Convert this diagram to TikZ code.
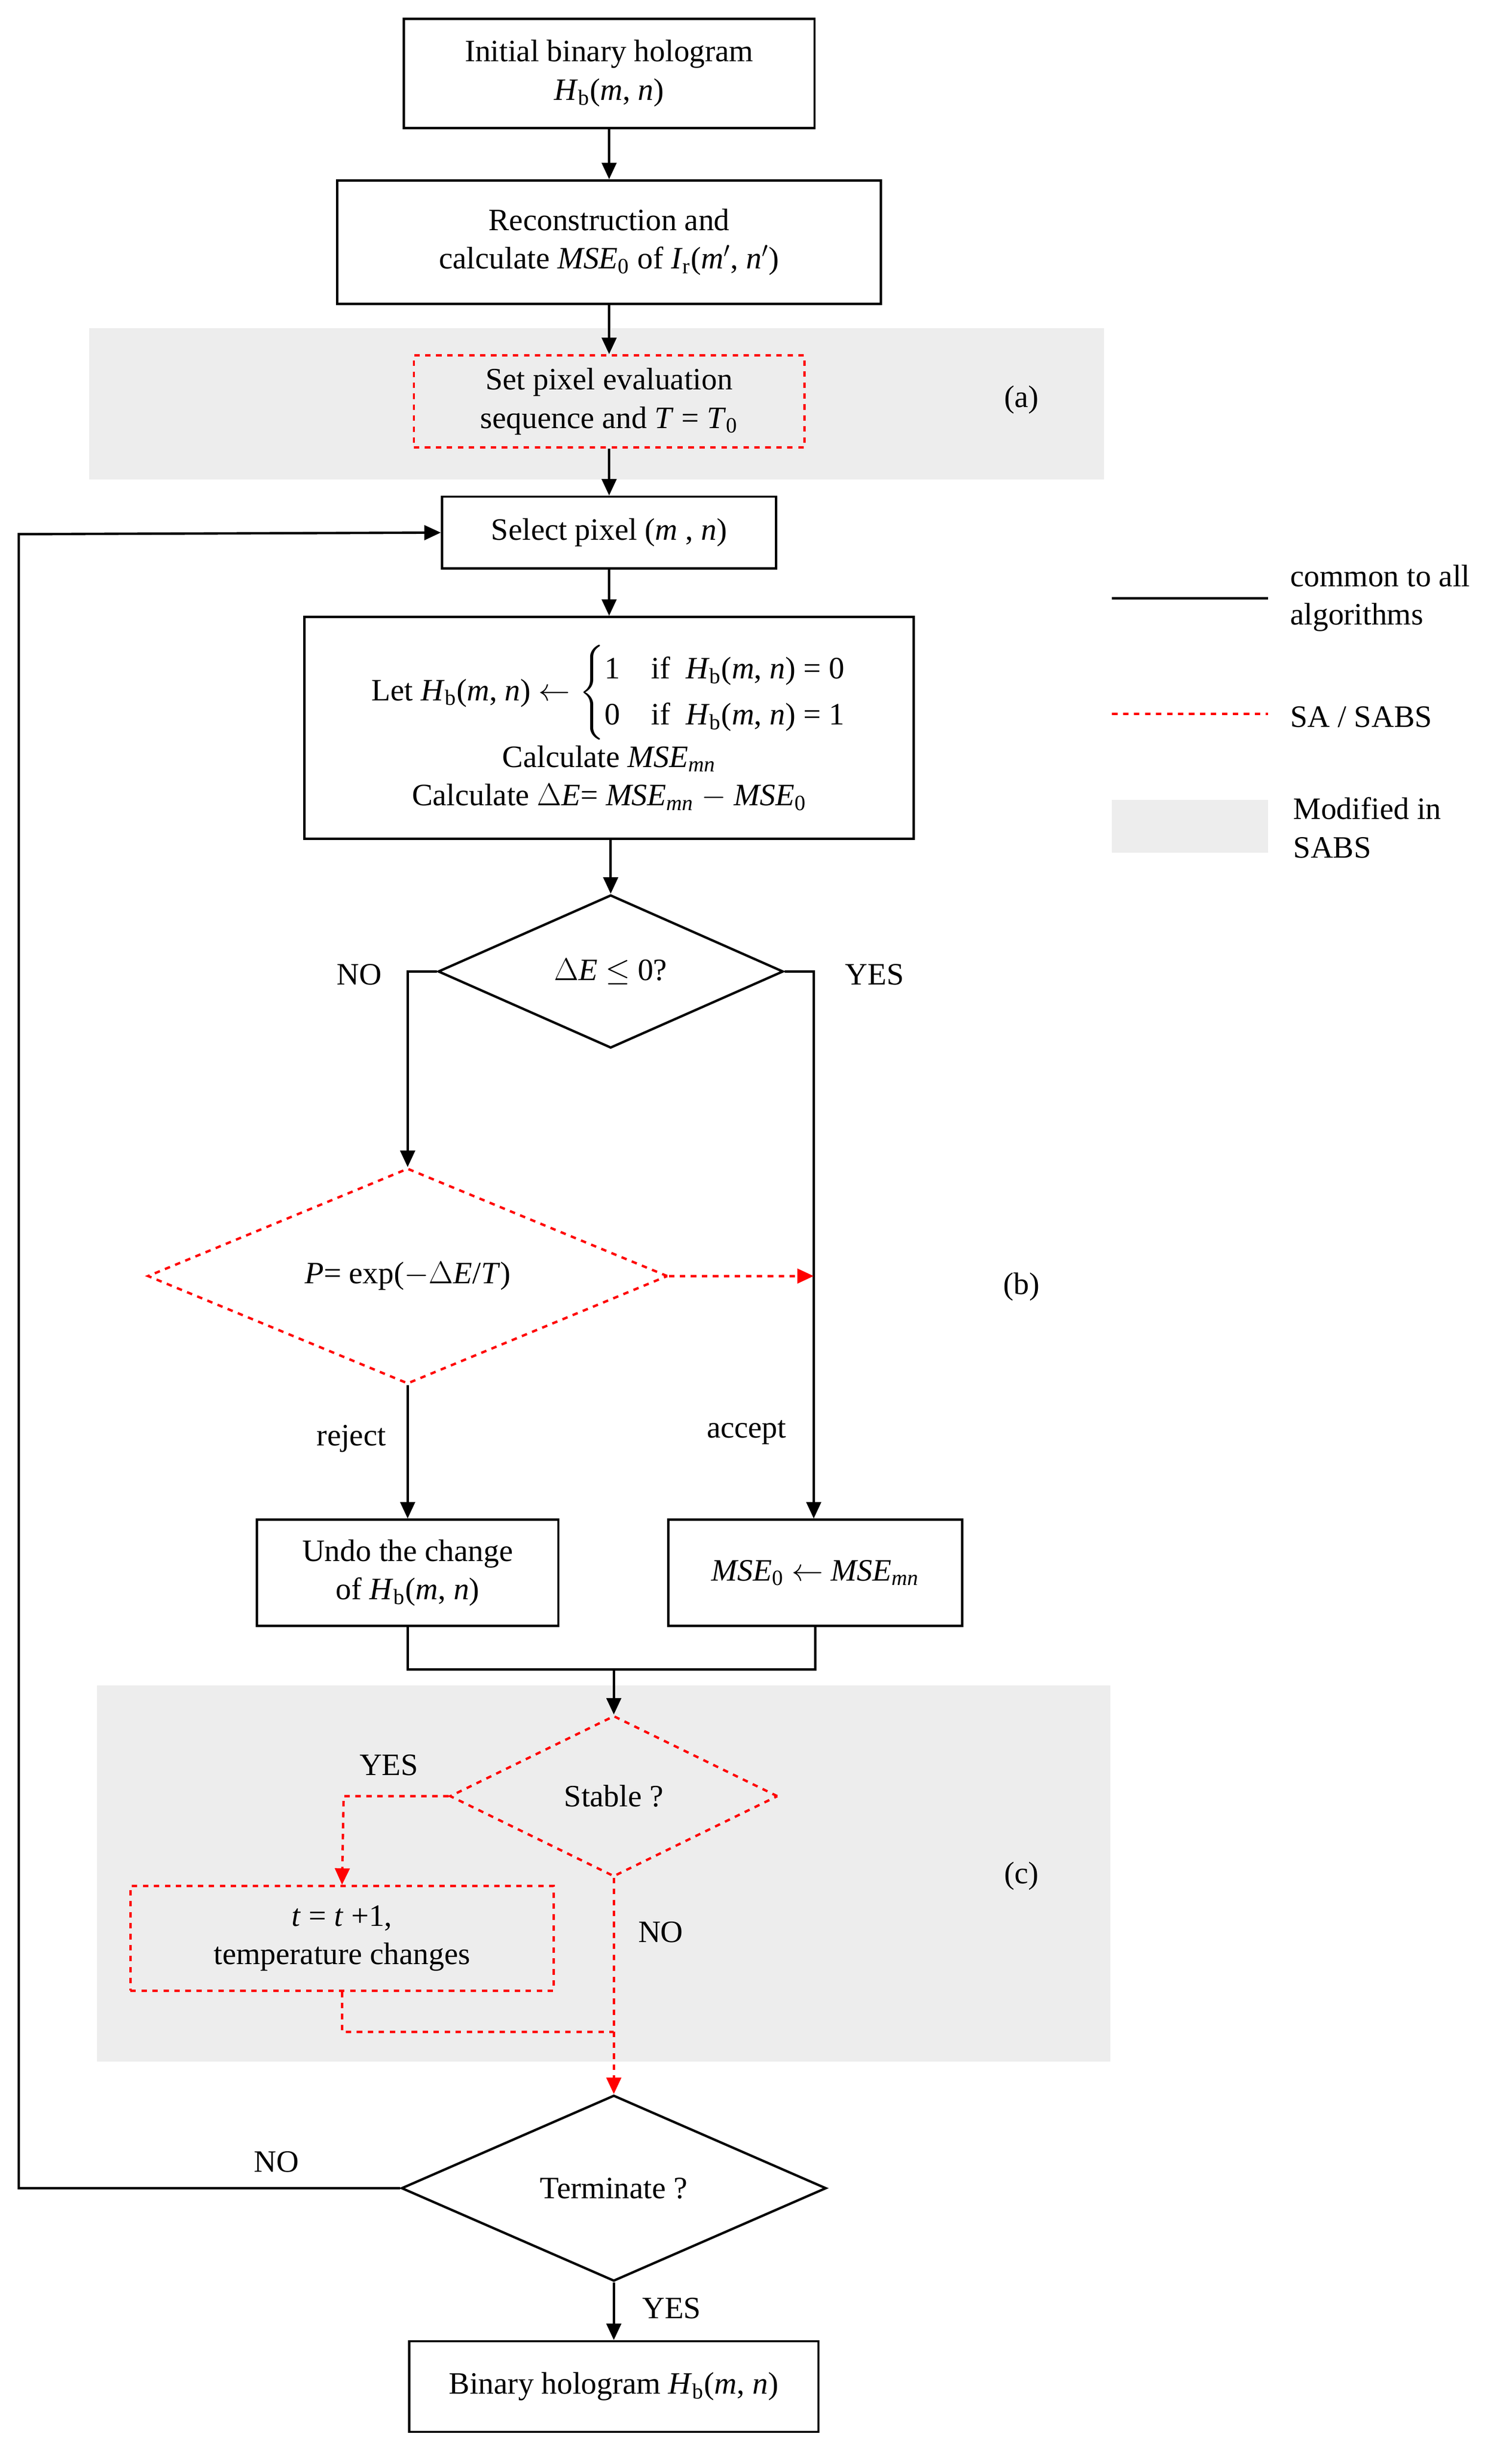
\documentclass[tikz,border=0pt]{standalone}
\usepackage{amsmath}
\usepackage{fontspec}
\setmainfont{Liberation Serif}
\usetikzlibrary{shapes.geometric,arrows.meta}
\begin{document}
\begin{tikzpicture}[x=0.03cm,y=-0.03cm,
  every node/.style={font=\fontsize{17}{21}\selectfont},
  box/.style={draw,line width=1.3pt,align=center,inner sep=0pt},
  rbox/.style={box,draw=red,dashed},
  dia/.style={draw,line width=1.3pt,diamond,inner sep=0pt,align=center},
  rdia/.style={dia,draw=red,dashed},
  line/.style={line width=1.3pt},
  arr/.style={line,-{Triangle[length=9pt,width=8pt]}},
  rline/.style={line,red,dashed},
  rarr/.style={rline,-{Triangle[length=9pt,width=8pt]}},
  band/.style={fill=black!7,draw=none}]
\useasboundingbox (0,0) rectangle (968,1568);
% grey bands
\fill[band] (57,210) rectangle (707,307);
\fill[band] (62,1079) rectangle (711,1320);
\fill[band] (712,512) rectangle (812,546);

% nodes
\node[box,minimum width=263*0.03cm,minimum height=70*0.03cm] (n1) at (390,47)
  {Initial binary hologram\\\textit{H}\textsubscript{b}(\textit{m}, \textit{n})};
\node[box,minimum width=348*0.03cm,minimum height=79*0.03cm] (n2) at (390,155)
  {Reconstruction and\\calculate \textit{MSE}\textsubscript{0} of \textit{I}\textsubscript{r}(\textit{m}$'$, \textit{n}$'$)};
\node[rbox,minimum width=250*0.03cm,minimum height=59*0.03cm] (n3) at (390,257)
  {Set pixel evaluation\\sequence and \textit{T} = \textit{T}\textsubscript{0}};
\node[box,minimum width=214*0.03cm,minimum height=46*0.03cm] (n4) at (390,341)
  {Select pixel (\textit{m} , \textit{n})};
\node[box,minimum width=390*0.03cm,minimum height=142*0.03cm] (n5) at (390,466)
  {Let \textit{H}\textsubscript{b}(\textit{m}, \textit{n}) $\leftarrow\begin{cases}\text{1} & \text{if\ \ \textit{H}\textsubscript{b}(\textit{m}, \textit{n}) = 0}\\ \text{0} & \text{if\ \ \textit{H}\textsubscript{b}(\textit{m}, \textit{n}) = 1}\end{cases}$\\[2pt]
   Calculate \textit{MSE\textsubscript{mn}}\\
   Calculate $\Delta$\textit{E}= \textit{MSE\textsubscript{mn}} $-$ \textit{MSE}\textsubscript{0}};
\node[dia,minimum width=221*0.03cm,minimum height=98*0.03cm,aspect=2.25] (d1) at (391,622)
  {$\Delta$\textit{E} $\leq$ 0?};
\node[rdia,minimum width=333*0.03cm,minimum height=138*0.03cm,aspect=2.4] (d2) at (261,817)
  {\textit{P}= exp($-\Delta$\textit{E}/\textit{T})};
\node[box,minimum width=193*0.03cm,minimum height=68*0.03cm] (n6) at (261,1007)
  {Undo the change\\of \textit{H}\textsubscript{b}(\textit{m}, \textit{n})};
\node[box,minimum width=188*0.03cm,minimum height=68*0.03cm] (n7) at (522,1007)
  {\textit{MSE}\textsubscript{0} $\leftarrow$ \textit{MSE\textsubscript{mn}}};
\node[rdia,minimum width=210*0.03cm,minimum height=103*0.03cm,aspect=2.04] (d3) at (393,1150)
  {Stable ?};
\node[rbox,minimum width=271*0.03cm,minimum height=67*0.03cm] (n8) at (219,1241)
  {\textit{t} = \textit{t} +1,\\temperature changes};
\node[dia,minimum width=272*0.03cm,minimum height=119*0.03cm,aspect=2.29] (d4) at (393,1401)
  {Terminate ?};
\node[box,minimum width=262*0.03cm,minimum height=58*0.03cm] (n9) at (393,1528)
  {Binary hologram \textit{H}\textsubscript{b}(\textit{m}, \textit{n})};

% coordinates
\coordinate (j1) at (393,1069);
\coordinate (cL) at (12,1401);
\coordinate (cT) at (12,342);
\coordinate (pr) at (521,817);

% connectors
\draw[arr] (n1) -- (n2);
\draw[arr] (n2) -- (n3);
\draw[arr] (n3) -- (n4);
\draw[arr] (n4) -- (n5);
\draw[arr] (n5.south -| d1.north) -- (d1.north);
\draw[arr] (d1.west) -- (261,622) -- (d2.north);
\draw[arr] (d1.east) -- (521,622) -- (n7.north -| 521,0);
\draw[rarr] (d2.east) -- (pr);
\draw[arr] (d2.south) -- (n6.north);
\draw[line] (n6.south) -- (261,1069) -- (522,1069) -- (n7.south);
\draw[arr] (j1) -- (d3.north);
\draw[rarr] (d3.west) -- (220,1150) -- (n8.north);
\draw[rline] (n8.south) -- (219,1301) -- (393,1301);
\draw[rarr] (d3.south) -- (d4.north);
\draw[arr] (d4.west) -- (cL) -- (cT) -- (n4.west);
\draw[arr] (d4.south) -- (n9.north);

% labels
\node (la) at (654,256) {(a)};
\node (lb) at (654,824) {(b)};
\node (lc) at (654,1201) {(c)};
\node (t1) at (230,624) {NO};
\node (t2) at (560,624) {YES};
\node (t3) at (225,921) {reject};
\node (t4) at (478,917) {accept};
\node (t5) at (249,1130) {YES};
\node (t6) at (423,1237) {NO};
\node (t7) at (177,1384) {NO};
\node (t8) at (430,1478) {YES};

% legend
\coordinate (g1) at (712,383); \coordinate (g2) at (812,383);
\draw[line] (g1) -- (g2);
\coordinate (g3) at (712,457); \coordinate (g4) at (812,457);
\draw[rline] (g3) -- (g4);
\node[anchor=west,align=left] (lg1) at (822,383) {common to all\\algorithms};
\node[anchor=west] (lg2) at (822,459) {SA / SABS};
\node[anchor=west,align=left] (lg3) at (824,530) {Modified in\\SABS};
\end{tikzpicture}
\end{document}
